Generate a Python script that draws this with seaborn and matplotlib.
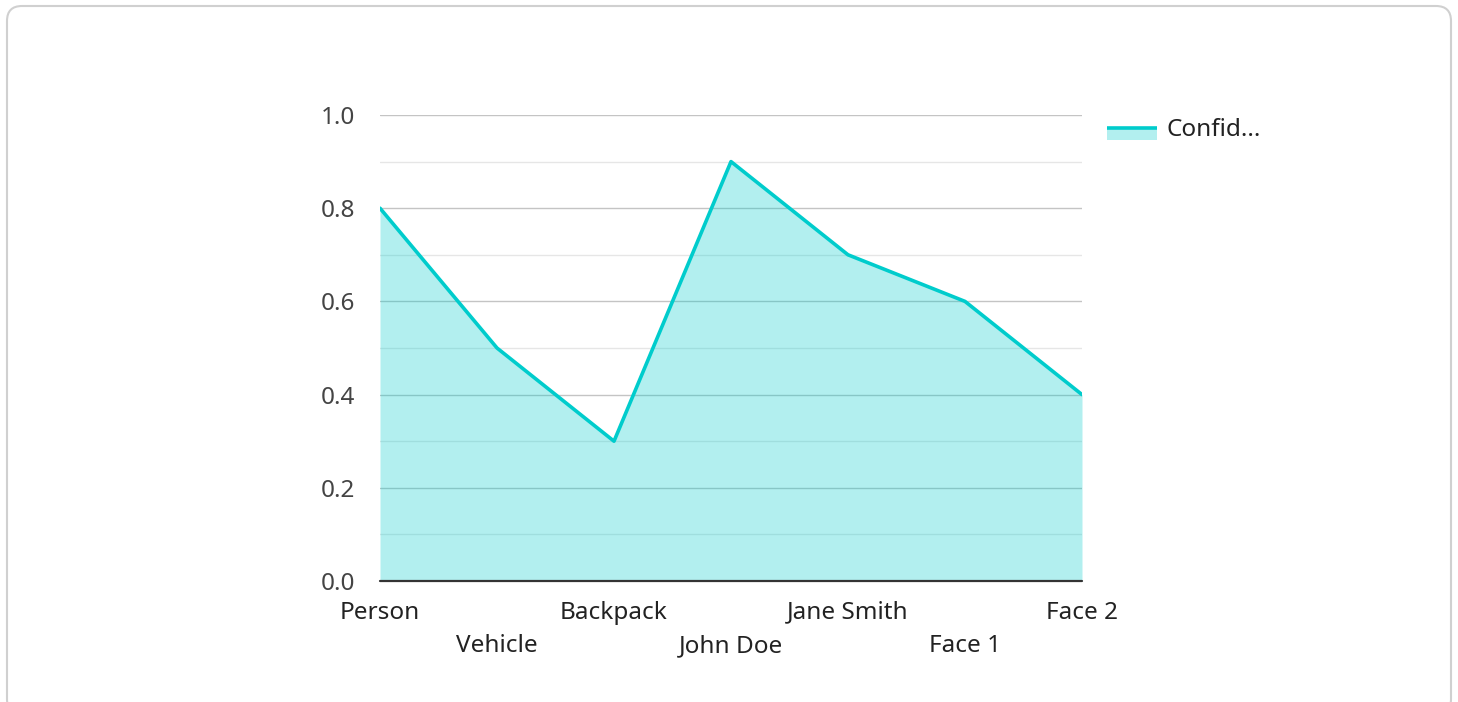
import matplotlib
matplotlib.use("Agg")
import matplotlib.pyplot as plt
from matplotlib.patches import FancyBboxPatch, Rectangle
from matplotlib.lines import Line2D
from matplotlib.transforms import IdentityTransform
import seaborn as sns
import pandas as pd
import numpy as np

categories = ["Person", "Vehicle", "Backpack", "John Doe", "Jane Smith", "Face 1", "Face 2"]
confidence = [0.8, 0.5, 0.3, 0.9, 0.7, 0.6, 0.4]
series_name = "Confid..."
y_ticks = [0.0, 0.2, 0.4, 0.6, 0.8, 1.0]

sns.set_theme(style="white")
plt.rcParams['font.family'] = ['Noto Sans', 'DejaVu Sans']

W, H = 1458, 702
FS = 17.5
fig = plt.figure(figsize=(W / 100, H / 100), dpi=100)
fig.patch.set_facecolor("white")

# card border (pixel coordinates, origin bottom-left)
card = FancyBboxPatch((7, -12), 1451 - 7, (H - 6) + 12,
                      boxstyle="round,pad=0,rounding_size=15",
                      transform=IdentityTransform(), facecolor="white",
                      edgecolor="#d0d0d0", linewidth=1.5, zorder=-10)
fig.add_artist(card)

x0, x1 = 380, 1082
ytop, ybot = 115, 581
ax = fig.add_axes([x0 / W, 1 - ybot / H, (x1 - x0) / W, (ybot - ytop) / H])
ax.set_facecolor("none")
ax.set_zorder(5)

df = pd.DataFrame({"pos": np.arange(len(categories)), "val": confidence, "cat": categories})
color = "#00CCCC"
ax.fill_between(df["pos"], 0, df["val"], color=color, alpha=0.3, linewidth=0, zorder=2)
sns.lineplot(data=df, x="pos", y="val", ax=ax, color=color, linewidth=2.6, zorder=3, legend=False)

ax.set_xlim(0, len(categories) - 1)
ax.set_ylim(0, 1)
for k in range(1, 11):
    v = k / 10
    major = (k % 2 == 0)
    ax.axhline(v, color="#c4c4c4" if major else "#e6e6e6", linewidth=1.0, zorder=1)
ax.axhline(0, color="#333333", linewidth=1.6, zorder=4, clip_on=False)

ax.set_yticks(y_ticks)
ax.set_yticklabels([f"{t:.1f}" for t in y_ticks])
ax.tick_params(axis="y", length=0, pad=18, labelsize=FS, labelcolor="#444444")
ax.set_xticks([])
for i, c in enumerate(categories):
    yoff = -0.068 if i % 2 == 0 else -0.139
    ax.text(i, yoff, c, transform=ax.get_xaxis_transform(), ha="center", va="center",
            fontsize=FS, color="#222222")
for s in ax.spines.values():
    s.set_visible(False)
ax.set_xlabel("")
ax.set_ylabel("")

# legend
fig.add_artist(Rectangle((1107 / W, 1 - 140 / H), 50 / W, 13 / H, transform=fig.transFigure,
                         facecolor=color, alpha=0.3, edgecolor="none"))
fig.add_artist(Line2D([1107 / W, 1157 / W], [1 - 127.5 / H, 1 - 127.5 / H], transform=fig.transFigure,
                      color=color, linewidth=2.6, solid_capstyle="butt"))
fig.text(1167 / W, 1 - 130 / H, series_name, ha="left", va="center", fontsize=FS, color="#222222")

fig.savefig("out.png", dpi=100)
